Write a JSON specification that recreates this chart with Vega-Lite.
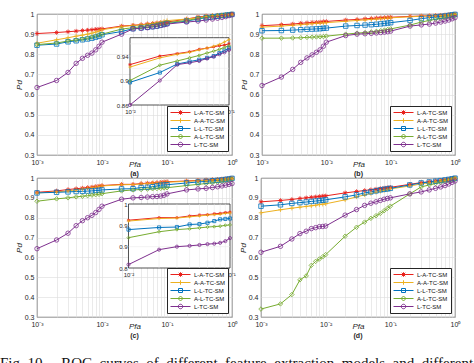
{
"$schema": "https://vega.github.io/schema/vega-lite/v6.json",
"background": "white",
"padding": {"left": 0, "top": 9, "right": 0, "bottom": 0},
"config": {
 "view": {"stroke": "#262626", "strokeWidth": 0.8},
 "font": "Liberation Sans",
 "style": {"guide-label": {"fontSize": 6}},
 "axis": {"labelFont": "Liberation Sans", "labelFontSize": 7, "labelColor": "#262626", "titleFont": "Liberation Sans", "titleFontSize": 8, "titleFontStyle": "italic", "titleFontWeight": "normal", "titleColor": "#262626", "domain": false, "ticks": false, "labelPadding": 3, "gridColor": "#dcdcdc", "gridWidth": 0.6},
 "legend": {"labelFontSize": 6, "labelFont": "Liberation Sans", "symbolSize": 25, "symbolStrokeWidth": 1, "clipHeight": 7}
},
"datasets": {
 "roc": [
  {"p":"a","x":0.001,"L-A-TC-SM":0.903,"A-A-TC-SM":0.855,"L-L-TC-SM":0.845,"A-L-TC-SM":0.848,"L-TC-SM":0.635},
  {"p":"a","x":0.002,"L-A-TC-SM":0.908,"A-A-TC-SM":0.872,"L-L-TC-SM":0.851,"A-L-TC-SM":0.856,"L-TC-SM":0.670},
  {"p":"a","x":0.003,"L-A-TC-SM":0.912,"A-A-TC-SM":0.882,"L-L-TC-SM":0.862,"A-L-TC-SM":0.866,"L-TC-SM":0.710},
  {"p":"a","x":0.004,"L-A-TC-SM":0.915,"A-A-TC-SM":0.890,"L-L-TC-SM":0.867,"A-L-TC-SM":0.871,"L-TC-SM":0.755},
  {"p":"a","x":0.005,"L-A-TC-SM":0.918,"A-A-TC-SM":0.895,"L-L-TC-SM":0.872,"A-L-TC-SM":0.876,"L-TC-SM":0.780},
  {"p":"a","x":0.006,"L-A-TC-SM":0.920,"A-A-TC-SM":0.900,"L-L-TC-SM":0.876,"A-L-TC-SM":0.880,"L-TC-SM":0.795},
  {"p":"a","x":0.007,"L-A-TC-SM":0.922,"A-A-TC-SM":0.905,"L-L-TC-SM":0.880,"A-L-TC-SM":0.885,"L-TC-SM":0.806},
  {"p":"a","x":0.008,"L-A-TC-SM":0.924,"A-A-TC-SM":0.910,"L-L-TC-SM":0.885,"A-L-TC-SM":0.890,"L-TC-SM":0.822},
  {"p":"a","x":0.009,"L-A-TC-SM":0.925,"A-A-TC-SM":0.915,"L-L-TC-SM":0.890,"A-L-TC-SM":0.895,"L-TC-SM":0.840},
  {"p":"a","x":0.01,"L-A-TC-SM":0.926,"A-A-TC-SM":0.922,"L-L-TC-SM":0.897,"A-L-TC-SM":0.900,"L-TC-SM":0.860},
  {"p":"a","x":0.02,"L-A-TC-SM":0.940,"A-A-TC-SM":0.937,"L-L-TC-SM":0.913,"A-L-TC-SM":0.925,"L-TC-SM":0.900},
  {"p":"a","x":0.03,"L-A-TC-SM":0.944,"A-A-TC-SM":0.943,"L-L-TC-SM":0.927,"A-L-TC-SM":0.932,"L-TC-SM":0.926},
  {"p":"a","x":0.04,"L-A-TC-SM":0.947,"A-A-TC-SM":0.946,"L-L-TC-SM":0.931,"A-L-TC-SM":0.937,"L-TC-SM":0.929},
  {"p":"a","x":0.05,"L-A-TC-SM":0.951,"A-A-TC-SM":0.950,"L-L-TC-SM":0.934,"A-L-TC-SM":0.941,"L-TC-SM":0.932},
  {"p":"a","x":0.06,"L-A-TC-SM":0.953,"A-A-TC-SM":0.953,"L-L-TC-SM":0.937,"A-L-TC-SM":0.945,"L-TC-SM":0.936},
  {"p":"a","x":0.07,"L-A-TC-SM":0.955,"A-A-TC-SM":0.956,"L-L-TC-SM":0.940,"A-L-TC-SM":0.948,"L-TC-SM":0.939},
  {"p":"a","x":0.08,"L-A-TC-SM":0.957,"A-A-TC-SM":0.959,"L-L-TC-SM":0.945,"A-L-TC-SM":0.951,"L-TC-SM":0.943},
  {"p":"a","x":0.09,"L-A-TC-SM":0.958,"A-A-TC-SM":0.963,"L-L-TC-SM":0.949,"A-L-TC-SM":0.954,"L-TC-SM":0.946},
  {"p":"a","x":0.1,"L-A-TC-SM":0.960,"A-A-TC-SM":0.967,"L-L-TC-SM":0.953,"A-L-TC-SM":0.957,"L-TC-SM":0.950},
  {"p":"a","x":0.2,"L-A-TC-SM":0.975,"A-A-TC-SM":0.975,"L-L-TC-SM":0.965,"A-L-TC-SM":0.968,"L-TC-SM":0.960},
  {"p":"a","x":0.3,"L-A-TC-SM":0.985,"A-A-TC-SM":0.982,"L-L-TC-SM":0.975,"A-L-TC-SM":0.978,"L-TC-SM":0.965},
  {"p":"a","x":0.4,"L-A-TC-SM":0.990,"A-A-TC-SM":0.988,"L-L-TC-SM":0.982,"A-L-TC-SM":0.984,"L-TC-SM":0.970},
  {"p":"a","x":0.5,"L-A-TC-SM":0.992,"A-A-TC-SM":0.991,"L-L-TC-SM":0.986,"A-L-TC-SM":0.988,"L-TC-SM":0.975},
  {"p":"a","x":0.6,"L-A-TC-SM":0.994,"A-A-TC-SM":0.993,"L-L-TC-SM":0.989,"A-L-TC-SM":0.991,"L-TC-SM":0.979},
  {"p":"a","x":0.7,"L-A-TC-SM":0.995,"A-A-TC-SM":0.995,"L-L-TC-SM":0.992,"A-L-TC-SM":0.993,"L-TC-SM":0.983},
  {"p":"a","x":0.8,"L-A-TC-SM":0.997,"A-A-TC-SM":0.996,"L-L-TC-SM":0.994,"A-L-TC-SM":0.995,"L-TC-SM":0.987},
  {"p":"a","x":0.9,"L-A-TC-SM":0.998,"A-A-TC-SM":0.998,"L-L-TC-SM":0.996,"A-L-TC-SM":0.997,"L-TC-SM":0.992},
  {"p":"a","x":1,"L-A-TC-SM":1.0,"A-A-TC-SM":1.0,"L-L-TC-SM":0.998,"A-L-TC-SM":0.999,"L-TC-SM":0.996},

  {"p":"b","x":0.001,"L-A-TC-SM":0.942,"A-A-TC-SM":0.935,"L-L-TC-SM":0.917,"A-L-TC-SM":0.880,"L-TC-SM":0.645},
  {"p":"b","x":0.002,"L-A-TC-SM":0.947,"A-A-TC-SM":0.940,"L-L-TC-SM":0.918,"A-L-TC-SM":0.880,"L-TC-SM":0.687},
  {"p":"b","x":0.003,"L-A-TC-SM":0.950,"A-A-TC-SM":0.944,"L-L-TC-SM":0.920,"A-L-TC-SM":0.881,"L-TC-SM":0.725},
  {"p":"b","x":0.004,"L-A-TC-SM":0.954,"A-A-TC-SM":0.947,"L-L-TC-SM":0.922,"A-L-TC-SM":0.882,"L-TC-SM":0.760},
  {"p":"b","x":0.005,"L-A-TC-SM":0.956,"A-A-TC-SM":0.950,"L-L-TC-SM":0.924,"A-L-TC-SM":0.884,"L-TC-SM":0.782},
  {"p":"b","x":0.006,"L-A-TC-SM":0.958,"A-A-TC-SM":0.952,"L-L-TC-SM":0.925,"A-L-TC-SM":0.885,"L-TC-SM":0.797},
  {"p":"b","x":0.007,"L-A-TC-SM":0.959,"A-A-TC-SM":0.954,"L-L-TC-SM":0.926,"A-L-TC-SM":0.886,"L-TC-SM":0.810},
  {"p":"b","x":0.008,"L-A-TC-SM":0.960,"A-A-TC-SM":0.955,"L-L-TC-SM":0.927,"A-L-TC-SM":0.887,"L-TC-SM":0.822},
  {"p":"b","x":0.009,"L-A-TC-SM":0.962,"A-A-TC-SM":0.956,"L-L-TC-SM":0.929,"A-L-TC-SM":0.888,"L-TC-SM":0.840},
  {"p":"b","x":0.01,"L-A-TC-SM":0.963,"A-A-TC-SM":0.957,"L-L-TC-SM":0.930,"A-L-TC-SM":0.890,"L-TC-SM":0.860},
  {"p":"b","x":0.02,"L-A-TC-SM":0.970,"A-A-TC-SM":0.964,"L-L-TC-SM":0.940,"A-L-TC-SM":0.900,"L-TC-SM":0.893},
  {"p":"b","x":0.03,"L-A-TC-SM":0.973,"A-A-TC-SM":0.968,"L-L-TC-SM":0.943,"A-L-TC-SM":0.905,"L-TC-SM":0.900},
  {"p":"b","x":0.04,"L-A-TC-SM":0.976,"A-A-TC-SM":0.971,"L-L-TC-SM":0.945,"A-L-TC-SM":0.908,"L-TC-SM":0.902},
  {"p":"b","x":0.05,"L-A-TC-SM":0.978,"A-A-TC-SM":0.973,"L-L-TC-SM":0.947,"A-L-TC-SM":0.911,"L-TC-SM":0.904},
  {"p":"b","x":0.06,"L-A-TC-SM":0.980,"A-A-TC-SM":0.975,"L-L-TC-SM":0.949,"A-L-TC-SM":0.914,"L-TC-SM":0.906},
  {"p":"b","x":0.07,"L-A-TC-SM":0.981,"A-A-TC-SM":0.977,"L-L-TC-SM":0.951,"A-L-TC-SM":0.917,"L-TC-SM":0.908},
  {"p":"b","x":0.08,"L-A-TC-SM":0.982,"A-A-TC-SM":0.979,"L-L-TC-SM":0.953,"A-L-TC-SM":0.920,"L-TC-SM":0.910},
  {"p":"b","x":0.09,"L-A-TC-SM":0.983,"A-A-TC-SM":0.980,"L-L-TC-SM":0.955,"A-L-TC-SM":0.923,"L-TC-SM":0.912},
  {"p":"b","x":0.1,"L-A-TC-SM":0.984,"A-A-TC-SM":0.981,"L-L-TC-SM":0.957,"A-L-TC-SM":0.926,"L-TC-SM":0.915},
  {"p":"b","x":0.2,"L-A-TC-SM":0.988,"A-A-TC-SM":0.986,"L-L-TC-SM":0.968,"A-L-TC-SM":0.945,"L-TC-SM":0.940},
  {"p":"b","x":0.3,"L-A-TC-SM":0.990,"A-A-TC-SM":0.989,"L-L-TC-SM":0.977,"A-L-TC-SM":0.960,"L-TC-SM":0.946},
  {"p":"b","x":0.4,"L-A-TC-SM":0.991,"A-A-TC-SM":0.990,"L-L-TC-SM":0.982,"A-L-TC-SM":0.968,"L-TC-SM":0.950},
  {"p":"b","x":0.5,"L-A-TC-SM":0.993,"A-A-TC-SM":0.992,"L-L-TC-SM":0.985,"A-L-TC-SM":0.974,"L-TC-SM":0.955},
  {"p":"b","x":0.6,"L-A-TC-SM":0.994,"A-A-TC-SM":0.993,"L-L-TC-SM":0.988,"A-L-TC-SM":0.978,"L-TC-SM":0.960},
  {"p":"b","x":0.7,"L-A-TC-SM":0.995,"A-A-TC-SM":0.995,"L-L-TC-SM":0.990,"A-L-TC-SM":0.982,"L-TC-SM":0.965},
  {"p":"b","x":0.8,"L-A-TC-SM":0.997,"A-A-TC-SM":0.996,"L-L-TC-SM":0.993,"A-L-TC-SM":0.986,"L-TC-SM":0.970},
  {"p":"b","x":0.9,"L-A-TC-SM":0.998,"A-A-TC-SM":0.998,"L-L-TC-SM":0.996,"A-L-TC-SM":0.990,"L-TC-SM":0.976},
  {"p":"b","x":1,"L-A-TC-SM":1.0,"A-A-TC-SM":0.999,"L-L-TC-SM":0.998,"A-L-TC-SM":0.995,"L-TC-SM":0.982},

  {"p":"c","x":0.001,"L-A-TC-SM":0.928,"A-A-TC-SM":0.925,"L-L-TC-SM":0.925,"A-L-TC-SM":0.883,"L-TC-SM":0.644},
  {"p":"c","x":0.002,"L-A-TC-SM":0.935,"A-A-TC-SM":0.930,"L-L-TC-SM":0.928,"A-L-TC-SM":0.895,"L-TC-SM":0.688},
  {"p":"c","x":0.003,"L-A-TC-SM":0.942,"A-A-TC-SM":0.935,"L-L-TC-SM":0.930,"A-L-TC-SM":0.900,"L-TC-SM":0.722},
  {"p":"c","x":0.004,"L-A-TC-SM":0.946,"A-A-TC-SM":0.940,"L-L-TC-SM":0.932,"A-L-TC-SM":0.905,"L-TC-SM":0.760},
  {"p":"c","x":0.005,"L-A-TC-SM":0.949,"A-A-TC-SM":0.944,"L-L-TC-SM":0.933,"A-L-TC-SM":0.908,"L-TC-SM":0.785},
  {"p":"c","x":0.006,"L-A-TC-SM":0.952,"A-A-TC-SM":0.948,"L-L-TC-SM":0.934,"A-L-TC-SM":0.911,"L-TC-SM":0.800},
  {"p":"c","x":0.007,"L-A-TC-SM":0.954,"A-A-TC-SM":0.951,"L-L-TC-SM":0.935,"A-L-TC-SM":0.914,"L-TC-SM":0.812},
  {"p":"c","x":0.008,"L-A-TC-SM":0.957,"A-A-TC-SM":0.954,"L-L-TC-SM":0.937,"A-L-TC-SM":0.916,"L-TC-SM":0.826},
  {"p":"c","x":0.009,"L-A-TC-SM":0.959,"A-A-TC-SM":0.957,"L-L-TC-SM":0.938,"A-L-TC-SM":0.918,"L-TC-SM":0.842},
  {"p":"c","x":0.01,"L-A-TC-SM":0.962,"A-A-TC-SM":0.960,"L-L-TC-SM":0.940,"A-L-TC-SM":0.921,"L-TC-SM":0.858},
  {"p":"c","x":0.02,"L-A-TC-SM":0.968,"A-A-TC-SM":0.966,"L-L-TC-SM":0.945,"A-L-TC-SM":0.935,"L-TC-SM":0.893},
  {"p":"c","x":0.03,"L-A-TC-SM":0.968,"A-A-TC-SM":0.967,"L-L-TC-SM":0.946,"A-L-TC-SM":0.940,"L-TC-SM":0.900},
  {"p":"c","x":0.04,"L-A-TC-SM":0.972,"A-A-TC-SM":0.970,"L-L-TC-SM":0.952,"A-L-TC-SM":0.942,"L-TC-SM":0.902},
  {"p":"c","x":0.05,"L-A-TC-SM":0.974,"A-A-TC-SM":0.972,"L-L-TC-SM":0.953,"A-L-TC-SM":0.944,"L-TC-SM":0.904},
  {"p":"c","x":0.06,"L-A-TC-SM":0.975,"A-A-TC-SM":0.974,"L-L-TC-SM":0.956,"A-L-TC-SM":0.946,"L-TC-SM":0.906},
  {"p":"c","x":0.07,"L-A-TC-SM":0.977,"A-A-TC-SM":0.975,"L-L-TC-SM":0.960,"A-L-TC-SM":0.947,"L-TC-SM":0.907},
  {"p":"c","x":0.08,"L-A-TC-SM":0.978,"A-A-TC-SM":0.976,"L-L-TC-SM":0.964,"A-L-TC-SM":0.948,"L-TC-SM":0.909},
  {"p":"c","x":0.09,"L-A-TC-SM":0.980,"A-A-TC-SM":0.978,"L-L-TC-SM":0.965,"A-L-TC-SM":0.950,"L-TC-SM":0.913},
  {"p":"c","x":0.1,"L-A-TC-SM":0.981,"A-A-TC-SM":0.979,"L-L-TC-SM":0.966,"A-L-TC-SM":0.951,"L-TC-SM":0.920},
  {"p":"c","x":0.2,"L-A-TC-SM":0.985,"A-A-TC-SM":0.983,"L-L-TC-SM":0.975,"A-L-TC-SM":0.962,"L-TC-SM":0.940},
  {"p":"c","x":0.3,"L-A-TC-SM":0.988,"A-A-TC-SM":0.986,"L-L-TC-SM":0.980,"A-L-TC-SM":0.968,"L-TC-SM":0.945},
  {"p":"c","x":0.4,"L-A-TC-SM":0.990,"A-A-TC-SM":0.988,"L-L-TC-SM":0.983,"A-L-TC-SM":0.972,"L-TC-SM":0.948},
  {"p":"c","x":0.5,"L-A-TC-SM":0.992,"A-A-TC-SM":0.990,"L-L-TC-SM":0.986,"A-L-TC-SM":0.976,"L-TC-SM":0.952},
  {"p":"c","x":0.6,"L-A-TC-SM":0.993,"A-A-TC-SM":0.992,"L-L-TC-SM":0.988,"A-L-TC-SM":0.979,"L-TC-SM":0.956},
  {"p":"c","x":0.7,"L-A-TC-SM":0.995,"A-A-TC-SM":0.994,"L-L-TC-SM":0.990,"A-L-TC-SM":0.982,"L-TC-SM":0.960},
  {"p":"c","x":0.8,"L-A-TC-SM":0.996,"A-A-TC-SM":0.995,"L-L-TC-SM":0.993,"A-L-TC-SM":0.986,"L-TC-SM":0.964},
  {"p":"c","x":0.9,"L-A-TC-SM":0.998,"A-A-TC-SM":0.997,"L-L-TC-SM":0.995,"A-L-TC-SM":0.990,"L-TC-SM":0.968},
  {"p":"c","x":1,"L-A-TC-SM":1.0,"A-A-TC-SM":0.999,"L-L-TC-SM":0.998,"A-L-TC-SM":0.994,"L-TC-SM":0.972},

  {"p":"d","x":0.001,"L-A-TC-SM":0.880,"A-A-TC-SM":0.825,"L-L-TC-SM":0.858,"A-L-TC-SM":0.340,"L-TC-SM":0.626},
  {"p":"d","x":0.002,"L-A-TC-SM":0.887,"A-A-TC-SM":0.840,"L-L-TC-SM":0.865,"A-L-TC-SM":0.366,"L-TC-SM":0.656},
  {"p":"d","x":0.003,"L-A-TC-SM":0.892,"A-A-TC-SM":0.848,"L-L-TC-SM":0.872,"A-L-TC-SM":0.413,"L-TC-SM":0.693},
  {"p":"d","x":0.004,"L-A-TC-SM":0.897,"A-A-TC-SM":0.853,"L-L-TC-SM":0.876,"A-L-TC-SM":0.487,"L-TC-SM":0.720},
  {"p":"d","x":0.005,"L-A-TC-SM":0.900,"A-A-TC-SM":0.857,"L-L-TC-SM":0.879,"A-L-TC-SM":0.507,"L-TC-SM":0.732},
  {"p":"d","x":0.006,"L-A-TC-SM":0.903,"A-A-TC-SM":0.860,"L-L-TC-SM":0.882,"A-L-TC-SM":0.560,"L-TC-SM":0.745},
  {"p":"d","x":0.007,"L-A-TC-SM":0.905,"A-A-TC-SM":0.863,"L-L-TC-SM":0.884,"A-L-TC-SM":0.580,"L-TC-SM":0.750},
  {"p":"d","x":0.008,"L-A-TC-SM":0.907,"A-A-TC-SM":0.866,"L-L-TC-SM":0.886,"A-L-TC-SM":0.592,"L-TC-SM":0.755},
  {"p":"d","x":0.009,"L-A-TC-SM":0.909,"A-A-TC-SM":0.868,"L-L-TC-SM":0.888,"A-L-TC-SM":0.603,"L-TC-SM":0.756},
  {"p":"d","x":0.01,"L-A-TC-SM":0.910,"A-A-TC-SM":0.870,"L-L-TC-SM":0.890,"A-L-TC-SM":0.614,"L-TC-SM":0.758},
  {"p":"d","x":0.02,"L-A-TC-SM":0.925,"A-A-TC-SM":0.890,"L-L-TC-SM":0.905,"A-L-TC-SM":0.707,"L-TC-SM":0.813},
  {"p":"d","x":0.03,"L-A-TC-SM":0.932,"A-A-TC-SM":0.905,"L-L-TC-SM":0.915,"A-L-TC-SM":0.752,"L-TC-SM":0.841},
  {"p":"d","x":0.04,"L-A-TC-SM":0.937,"A-A-TC-SM":0.915,"L-L-TC-SM":0.925,"A-L-TC-SM":0.778,"L-TC-SM":0.862},
  {"p":"d","x":0.05,"L-A-TC-SM":0.941,"A-A-TC-SM":0.922,"L-L-TC-SM":0.930,"A-L-TC-SM":0.797,"L-TC-SM":0.873},
  {"p":"d","x":0.06,"L-A-TC-SM":0.944,"A-A-TC-SM":0.928,"L-L-TC-SM":0.935,"A-L-TC-SM":0.810,"L-TC-SM":0.880},
  {"p":"d","x":0.07,"L-A-TC-SM":0.947,"A-A-TC-SM":0.933,"L-L-TC-SM":0.940,"A-L-TC-SM":0.822,"L-TC-SM":0.887},
  {"p":"d","x":0.08,"L-A-TC-SM":0.949,"A-A-TC-SM":0.937,"L-L-TC-SM":0.943,"A-L-TC-SM":0.835,"L-TC-SM":0.893},
  {"p":"d","x":0.09,"L-A-TC-SM":0.951,"A-A-TC-SM":0.941,"L-L-TC-SM":0.945,"A-L-TC-SM":0.847,"L-TC-SM":0.897},
  {"p":"d","x":0.1,"L-A-TC-SM":0.953,"A-A-TC-SM":0.945,"L-L-TC-SM":0.948,"A-L-TC-SM":0.858,"L-TC-SM":0.900},
  {"p":"d","x":0.2,"L-A-TC-SM":0.968,"A-A-TC-SM":0.960,"L-L-TC-SM":0.965,"A-L-TC-SM":0.920,"L-TC-SM":0.920},
  {"p":"d","x":0.3,"L-A-TC-SM":0.977,"A-A-TC-SM":0.970,"L-L-TC-SM":0.975,"A-L-TC-SM":0.955,"L-TC-SM":0.930},
  {"p":"d","x":0.4,"L-A-TC-SM":0.981,"A-A-TC-SM":0.976,"L-L-TC-SM":0.980,"A-L-TC-SM":0.965,"L-TC-SM":0.940},
  {"p":"d","x":0.5,"L-A-TC-SM":0.985,"A-A-TC-SM":0.981,"L-L-TC-SM":0.984,"A-L-TC-SM":0.972,"L-TC-SM":0.948},
  {"p":"d","x":0.6,"L-A-TC-SM":0.988,"A-A-TC-SM":0.985,"L-L-TC-SM":0.987,"A-L-TC-SM":0.978,"L-TC-SM":0.955},
  {"p":"d","x":0.7,"L-A-TC-SM":0.991,"A-A-TC-SM":0.988,"L-L-TC-SM":0.990,"A-L-TC-SM":0.983,"L-TC-SM":0.962},
  {"p":"d","x":0.8,"L-A-TC-SM":0.994,"A-A-TC-SM":0.992,"L-L-TC-SM":0.993,"A-L-TC-SM":0.987,"L-TC-SM":0.970},
  {"p":"d","x":0.9,"L-A-TC-SM":0.997,"A-A-TC-SM":0.996,"L-L-TC-SM":0.996,"A-L-TC-SM":0.992,"L-TC-SM":0.978},
  {"p":"d","x":1,"L-A-TC-SM":1.0,"A-A-TC-SM":0.999,"L-L-TC-SM":0.999,"A-L-TC-SM":0.997,"L-TC-SM":0.985}
 ]
},
"title": {"text": "Fig. 10.\u00a0\u00a0\u00a0\u00a0ROC\u00a0\u00a0curves\u00a0\u00a0of\u00a0\u00a0different\u00a0\u00a0feature\u00a0\u00a0extraction\u00a0\u00a0models\u00a0\u00a0and\u00a0\u00a0different", "orient": "bottom", "anchor": "start", "frame": "group", "font": "Liberation Serif", "fontSize": 15, "fontWeight": "normal", "color": "#111111", "offset": 17, "dx": -37},
"spacing": -6,
"resolve": {"scale": {"color": "independent", "shape": "independent"}, "legend": {"color": "independent", "shape": "independent"}},
"vconcat": [
 {"hconcat": [
  {
   "width": 195, "height": 141,
   "data": {"name": "roc"},
   "transform": [{"filter": "datum.p === 'a'"}, {"fold": ["L-A-TC-SM", "A-A-TC-SM", "L-L-TC-SM", "A-L-TC-SM", "L-TC-SM"], "as": ["s", "y"]}],
   "title": {"text": "(a)", "orient": "bottom", "offset": 2, "fontSize": 7, "fontWeight": "bold", "font": "Liberation Sans", "color": "#262626", "anchor": "middle"},
   "layer": [
    {
     "encoding": {
      "x": {"field": "x", "type": "quantitative", "scale": {"type": "log", "domain": [0.001, 1], "nice": false}, "axis": {"values": [0.001,0.002,0.003,0.004,0.005,0.006,0.007,0.008,0.009,0.01,0.02,0.03,0.04,0.05,0.06,0.07,0.08,0.09,0.1,0.2,0.3,0.4,0.5,0.6,0.7,0.8,0.9,1], "labelExpr": "datum.value === 0.001 ? '10⁻³' : datum.value === 0.01 ? '10⁻²' : datum.value === 0.1 ? '10⁻¹' : datum.value === 1 ? '10⁰' : ''", "labelOverlap": false, "labelFlush": false, "labelBound": false, "title": "Pfa", "titlePadding": -5, "grid": true}},
      "y": {"field": "y", "type": "quantitative", "scale": {"domain": [0.3, 1], "nice": false, "zero": false}, "axis": {"values": [0.3,0.4,0.5,0.6,0.7,0.8,0.9,1], "format": ".1~f", "title": "Pd", "titlePadding": 1, "grid": true}},
      "color": {"field": "s", "type": "nominal", "scale": {"domain": ["L-A-TC-SM", "A-A-TC-SM", "L-L-TC-SM", "A-L-TC-SM", "L-TC-SM"], "range": ["#e8211c", "#edb120", "#0072bd", "#77ac30", "#7e2f8e"]}, "legend": {"title": null, "orient": "bottom-right", "offset": 4, "zindex": 1, "fillColor": "white", "strokeColor": "#262626", "padding": 3, "labelFontSize": 6, "labelFont": "Liberation Sans", "labelColor": "#111111", "symbolSize": 25, "symbolStrokeWidth": 1, "rowPadding": 1, "labelOffset": 18, "clipHeight": 7}}
     },
     "layer": [
      {"mark": {"type": "line", "strokeWidth": 1}},
      {"mark": {"type": "point", "filled": false, "strokeWidth": 0.8, "size": 20, "opacity": 1}, "encoding": {"shape": {"condition": [{"test": "datum.s === 'L-A-TC-SM'", "value": "M-1,0L1,0M0,-1L0,1M-0.7,-0.7L0.7,0.7M-0.7,0.7L0.7,-0.7"}, {"test": "datum.s === 'A-A-TC-SM'", "value": "M-1,0L1,0M0,-1L0,1"}, {"test": "datum.s === 'L-L-TC-SM'", "value": "square"}, {"test": "datum.s === 'A-L-TC-SM'", "value": "diamond"}], "value": "circle"}}},
      {"transform": [{"filter": "false"}], "mark": {"type": "point", "filled": false, "strokeWidth": 1, "opacity": 1}, "encoding": {"shape": {"field": "s", "type": "nominal", "scale": {"domain": ["L-A-TC-SM", "A-A-TC-SM", "L-L-TC-SM", "A-L-TC-SM", "L-TC-SM"], "range": ["M-1,0L7,0M2.3,-0.7L3.7,0.7M2.3,0.7L3.7,-0.7M3,-0.9L3,0.9", "M-1,0L7,0M3,-0.9L3,0.9", "M-1,0L7,0M2.2,-0.8L3.8,-0.8L3.8,0.8L2.2,0.8Z", "M-1,0L7,0M3,-1L4,0L3,1L2,0Z", "M-1,0L7,0M2.1,0A0.9,0.9 0 1,0 3.9,0A0.9,0.9 0 1,0 2.1,0Z"]}, "legend": {"title": null, "orient": "bottom-right", "offset": 4, "zindex": 1, "fillColor": "white", "strokeColor": "#262626", "padding": 3, "labelFontSize": 6, "labelFont": "Liberation Sans", "labelColor": "#111111", "symbolSize": 25, "symbolStrokeWidth": 1, "rowPadding": 1, "labelOffset": 18, "clipHeight": 7}}}}
     ]
    },
    {
     "layer": [
      {"data": {"values": [{}]}, "mark": {"type": "rect", "fill": "white", "stroke": "#262626", "strokeWidth": 0.8},
       "encoding": {
        "x": {"datum": 0.01, "type": "quantitative", "scale": {"type": "log", "domain": [0.0011498, 0.10723], "nice": false}, "axis": {"orient": "bottom", "offset": -50, "values": [0.01, 0.1], "labelExpr": "datum.value < 0.05 ? '10⁻²' : '10⁻¹'", "title": null, "grid": false, "labelFlush": false, "labelOverlap": false, "zindex": 1, "labelPadding": 3, "labelFontSize": 6}},
        "x2": {"datum": 0.1},
        "y": {"datum": 0.86, "type": "quantitative", "scale": {"domain": [0.77828, 1.00874], "nice": false, "zero": false}, "axis": {"orient": "left", "offset": -93, "values": [0.86, 0.88, 0.9, 0.92, 0.94, 0.96], "format": "~g", "title": null, "grid": false, "zindex": 1, "labelPadding": 2, "labelOverlap": false, "labelFontSize": 6}},
        "y2": {"datum": 0.97}}},
      {"data": {"values": [{"v":0.02},{"v":0.03},{"v":0.04},{"v":0.05},{"v":0.06},{"v":0.07},{"v":0.08},{"v":0.09}]}, "mark": {"type": "rule", "stroke": "#e6e6e6", "strokeWidth": 0.5},
       "encoding": {"x": {"field": "v", "type": "quantitative", "scale": {"type": "log", "domain": [0.0011498, 0.10723], "nice": false}}, "y": {"datum": 0.86, "type": "quantitative", "scale": {"domain": [0.77828, 1.00874], "nice": false, "zero": false}}, "y2": {"datum": 0.97}}},
      {"data": {"values": [{"v":0.88},{"v":0.9},{"v":0.92},{"v":0.94},{"v":0.96}]}, "mark": {"type": "rule", "stroke": "#e6e6e6", "strokeWidth": 0.5},
       "encoding": {"y": {"field": "v", "type": "quantitative", "scale": {"domain": [0.77828, 1.00874], "nice": false, "zero": false}}, "x": {"datum": 0.01, "type": "quantitative", "scale": {"type": "log", "domain": [0.0011498, 0.10723], "nice": false}}, "x2": {"datum": 0.1}}},
      {"transform": [{"filter": "datum.x >= 0.01 && datum.x <= 0.1"}],
       "encoding": {
        "x": {"field": "x", "type": "quantitative", "scale": {"type": "log", "domain": [0.0011498, 0.10723], "nice": false}},
        "y": {"field": "y", "type": "quantitative", "scale": {"domain": [0.77828, 1.00874], "nice": false, "zero": false}},
        "color": {"field": "s", "type": "nominal"}},
       "layer": [
        {"mark": {"type": "line", "strokeWidth": 1}},
        {"mark": {"type": "point", "filled": false, "strokeWidth": 0.8, "size": 10, "opacity": 1}, "encoding": {"shape": {"condition": [{"test": "datum.s === 'L-A-TC-SM'", "value": "M-1,0L1,0M0,-1L0,1M-0.7,-0.7L0.7,0.7M-0.7,0.7L0.7,-0.7"}, {"test": "datum.s === 'A-A-TC-SM'", "value": "M-1,0L1,0M0,-1L0,1"}, {"test": "datum.s === 'L-L-TC-SM'", "value": "square"}, {"test": "datum.s === 'A-L-TC-SM'", "value": "diamond"}], "value": "circle"}}}
       ]}
     ]
    }
   ],
   "resolve": {"scale": {"x": "independent", "y": "independent"}, "axis": {"x": "independent", "y": "independent"}}
  },
  {
   "width": 193, "height": 141,
   "data": {"name": "roc"},
   "transform": [{"filter": "datum.p === 'b'"}, {"fold": ["L-A-TC-SM", "A-A-TC-SM", "L-L-TC-SM", "A-L-TC-SM", "L-TC-SM"], "as": ["s", "y"]}],
   "title": {"text": "(b)", "orient": "bottom", "offset": 2, "fontSize": 7, "fontWeight": "bold", "font": "Liberation Sans", "color": "#262626", "anchor": "middle"},
   "encoding": {
    "x": {"field": "x", "type": "quantitative", "scale": {"type": "log", "domain": [0.001, 1], "nice": false}, "axis": {"values": [0.001,0.002,0.003,0.004,0.005,0.006,0.007,0.008,0.009,0.01,0.02,0.03,0.04,0.05,0.06,0.07,0.08,0.09,0.1,0.2,0.3,0.4,0.5,0.6,0.7,0.8,0.9,1], "labelExpr": "datum.value === 0.001 ? '10⁻³' : datum.value === 0.01 ? '10⁻²' : datum.value === 0.1 ? '10⁻¹' : datum.value === 1 ? '10⁰' : ''", "labelOverlap": false, "labelFlush": false, "labelBound": false, "title": "Pfa", "titlePadding": -5, "grid": true}},
    "y": {"field": "y", "type": "quantitative", "scale": {"domain": [0.3, 1], "nice": false, "zero": false}, "axis": {"values": [0.3,0.4,0.5,0.6,0.7,0.8,0.9,1], "format": ".1~f", "title": "Pd", "titlePadding": 1, "grid": true}},
    "color": {"field": "s", "type": "nominal", "scale": {"domain": ["L-A-TC-SM", "A-A-TC-SM", "L-L-TC-SM", "A-L-TC-SM", "L-TC-SM"], "range": ["#e8211c", "#edb120", "#0072bd", "#77ac30", "#7e2f8e"]}, "legend": {"title": null, "orient": "bottom-right", "offset": 4, "zindex": 1, "fillColor": "white", "strokeColor": "#262626", "padding": 3, "labelFontSize": 6, "labelFont": "Liberation Sans", "labelColor": "#111111", "symbolSize": 25, "symbolStrokeWidth": 1, "rowPadding": 1, "labelOffset": 18, "clipHeight": 7}}
   },
   "layer": [
    {"mark": {"type": "line", "strokeWidth": 1}},
    {"mark": {"type": "point", "filled": false, "strokeWidth": 0.8, "size": 20, "opacity": 1}, "encoding": {"shape": {"condition": [{"test": "datum.s === 'L-A-TC-SM'", "value": "M-1,0L1,0M0,-1L0,1M-0.7,-0.7L0.7,0.7M-0.7,0.7L0.7,-0.7"}, {"test": "datum.s === 'A-A-TC-SM'", "value": "M-1,0L1,0M0,-1L0,1"}, {"test": "datum.s === 'L-L-TC-SM'", "value": "square"}, {"test": "datum.s === 'A-L-TC-SM'", "value": "diamond"}], "value": "circle"}}},
    {"transform": [{"filter": "false"}], "mark": {"type": "point", "filled": false, "strokeWidth": 1, "opacity": 1}, "encoding": {"shape": {"field": "s", "type": "nominal", "scale": {"domain": ["L-A-TC-SM", "A-A-TC-SM", "L-L-TC-SM", "A-L-TC-SM", "L-TC-SM"], "range": ["M-1,0L7,0M2.3,-0.7L3.7,0.7M2.3,0.7L3.7,-0.7M3,-0.9L3,0.9", "M-1,0L7,0M3,-0.9L3,0.9", "M-1,0L7,0M2.2,-0.8L3.8,-0.8L3.8,0.8L2.2,0.8Z", "M-1,0L7,0M3,-1L4,0L3,1L2,0Z", "M-1,0L7,0M2.1,0A0.9,0.9 0 1,0 3.9,0A0.9,0.9 0 1,0 2.1,0Z"]}, "legend": {"title": null, "orient": "bottom-right", "offset": 4, "zindex": 1, "fillColor": "white", "strokeColor": "#262626", "padding": 3, "labelFontSize": 6, "labelFont": "Liberation Sans", "labelColor": "#111111", "symbolSize": 25, "symbolStrokeWidth": 1, "rowPadding": 1, "labelOffset": 18, "clipHeight": 7}}}}
   ]
  }
 ], "spacing": 30, "bounds": "flush", "resolve": {"scale": {"color": "independent", "shape": "independent"}, "legend": {"color": "independent", "shape": "independent"}}},
 {"hconcat": [
  {
   "width": 195, "height": 139,
   "data": {"name": "roc"},
   "transform": [{"filter": "datum.p === 'c'"}, {"fold": ["L-A-TC-SM", "A-A-TC-SM", "L-L-TC-SM", "A-L-TC-SM", "L-TC-SM"], "as": ["s", "y"]}],
   "title": {"text": "(c)", "orient": "bottom", "offset": 2, "fontSize": 7, "fontWeight": "bold", "font": "Liberation Sans", "color": "#262626", "anchor": "middle"},
   "layer": [
    {
     "encoding": {
      "x": {"field": "x", "type": "quantitative", "scale": {"type": "log", "domain": [0.001, 1], "nice": false}, "axis": {"values": [0.001,0.002,0.003,0.004,0.005,0.006,0.007,0.008,0.009,0.01,0.02,0.03,0.04,0.05,0.06,0.07,0.08,0.09,0.1,0.2,0.3,0.4,0.5,0.6,0.7,0.8,0.9,1], "labelExpr": "datum.value === 0.001 ? '10⁻³' : datum.value === 0.01 ? '10⁻²' : datum.value === 0.1 ? '10⁻¹' : datum.value === 1 ? '10⁰' : ''", "labelOverlap": false, "labelFlush": false, "labelBound": false, "title": "Pfa", "titlePadding": -5, "grid": true}},
      "y": {"field": "y", "type": "quantitative", "scale": {"domain": [0.3, 1], "nice": false, "zero": false}, "axis": {"values": [0.3,0.4,0.5,0.6,0.7,0.8,0.9,1], "format": ".1~f", "title": "Pd", "titlePadding": 1, "grid": true}},
      "color": {"field": "s", "type": "nominal", "scale": {"domain": ["L-A-TC-SM", "A-A-TC-SM", "L-L-TC-SM", "A-L-TC-SM", "L-TC-SM"], "range": ["#e8211c", "#edb120", "#0072bd", "#77ac30", "#7e2f8e"]}, "legend": {"title": null, "orient": "bottom-right", "offset": 4, "zindex": 1, "fillColor": "white", "strokeColor": "#262626", "padding": 3, "labelFontSize": 6, "labelFont": "Liberation Sans", "labelColor": "#111111", "symbolSize": 25, "symbolStrokeWidth": 1, "rowPadding": 1, "labelOffset": 18, "clipHeight": 7}}
     },
     "layer": [
      {"mark": {"type": "line", "strokeWidth": 1}},
      {"mark": {"type": "point", "filled": false, "strokeWidth": 0.8, "size": 20, "opacity": 1}, "encoding": {"shape": {"condition": [{"test": "datum.s === 'L-A-TC-SM'", "value": "M-1,0L1,0M0,-1L0,1M-0.7,-0.7L0.7,0.7M-0.7,0.7L0.7,-0.7"}, {"test": "datum.s === 'A-A-TC-SM'", "value": "M-1,0L1,0M0,-1L0,1"}, {"test": "datum.s === 'L-L-TC-SM'", "value": "square"}, {"test": "datum.s === 'A-L-TC-SM'", "value": "diamond"}], "value": "circle"}}},
      {"transform": [{"filter": "false"}], "mark": {"type": "point", "filled": false, "strokeWidth": 1, "opacity": 1}, "encoding": {"shape": {"field": "s", "type": "nominal", "scale": {"domain": ["L-A-TC-SM", "A-A-TC-SM", "L-L-TC-SM", "A-L-TC-SM", "L-TC-SM"], "range": ["M-1,0L7,0M2.3,-0.7L3.7,0.7M2.3,0.7L3.7,-0.7M3,-0.9L3,0.9", "M-1,0L7,0M3,-0.9L3,0.9", "M-1,0L7,0M2.2,-0.8L3.8,-0.8L3.8,0.8L2.2,0.8Z", "M-1,0L7,0M3,-1L4,0L3,1L2,0Z", "M-1,0L7,0M2.1,0A0.9,0.9 0 1,0 3.9,0A0.9,0.9 0 1,0 2.1,0Z"]}, "legend": {"title": null, "orient": "bottom-right", "offset": 4, "zindex": 1, "fillColor": "white", "strokeColor": "#262626", "padding": 3, "labelFontSize": 6, "labelFont": "Liberation Sans", "labelColor": "#111111", "symbolSize": 25, "symbolStrokeWidth": 1, "rowPadding": 1, "labelOffset": 18, "clipHeight": 7}}}}
     ]
    },
    {
     "layer": [
      {"data": {"values": [{}]}, "mark": {"type": "rect", "fill": "white", "stroke": "#262626", "strokeWidth": 0.8},
       "encoding": {
        "x": {"datum": 0.01, "type": "quantitative", "scale": {"type": "log", "domain": [0.0012547, 0.10464], "nice": false}, "axis": {"orient": "bottom", "offset": -49, "values": [0.01, 0.1], "labelExpr": "datum.value < 0.05 ? '10⁻²' : '10⁻¹'", "title": null, "grid": false, "labelFlush": false, "labelOverlap": false, "zindex": 1, "labelPadding": 3, "labelFontSize": 6}},
        "x2": {"datum": 0.1},
        "y": {"datum": 0.85, "type": "quantitative", "scale": {"domain": [0.73516, 1.06094], "nice": false, "zero": false}, "axis": {"orient": "left", "offset": -92, "values": [0.85, 0.9, 0.95, 1], "format": "~g", "title": null, "grid": false, "zindex": 1, "labelPadding": 2, "labelOverlap": false, "labelFontSize": 6}},
        "y2": {"datum": 1}}},
      {"data": {"values": [{"v":0.02},{"v":0.03},{"v":0.04},{"v":0.05},{"v":0.06},{"v":0.07},{"v":0.08},{"v":0.09}]}, "mark": {"type": "rule", "stroke": "#e6e6e6", "strokeWidth": 0.5},
       "encoding": {"x": {"field": "v", "type": "quantitative", "scale": {"type": "log", "domain": [0.0012547, 0.10464], "nice": false}}, "y": {"datum": 0.85, "type": "quantitative", "scale": {"domain": [0.73516, 1.06094], "nice": false, "zero": false}}, "y2": {"datum": 1}}},
      {"data": {"values": [{"v":0.9},{"v":0.95}]}, "mark": {"type": "rule", "stroke": "#e6e6e6", "strokeWidth": 0.5},
       "encoding": {"y": {"field": "v", "type": "quantitative", "scale": {"domain": [0.73516, 1.06094], "nice": false, "zero": false}}, "x": {"datum": 0.01, "type": "quantitative", "scale": {"type": "log", "domain": [0.0012547, 0.10464], "nice": false}}, "x2": {"datum": 0.1}}},
      {"transform": [{"filter": "datum.x >= 0.01 && datum.x <= 0.1"}],
       "encoding": {
        "x": {"field": "x", "type": "quantitative", "scale": {"type": "log", "domain": [0.0012547, 0.10464], "nice": false}},
        "y": {"field": "y", "type": "quantitative", "scale": {"domain": [0.73516, 1.06094], "nice": false, "zero": false}},
        "color": {"field": "s", "type": "nominal"}},
       "layer": [
        {"mark": {"type": "line", "strokeWidth": 1}},
        {"mark": {"type": "point", "filled": false, "strokeWidth": 0.8, "size": 10, "opacity": 1}, "encoding": {"shape": {"condition": [{"test": "datum.s === 'L-A-TC-SM'", "value": "M-1,0L1,0M0,-1L0,1M-0.7,-0.7L0.7,0.7M-0.7,0.7L0.7,-0.7"}, {"test": "datum.s === 'A-A-TC-SM'", "value": "M-1,0L1,0M0,-1L0,1"}, {"test": "datum.s === 'L-L-TC-SM'", "value": "square"}, {"test": "datum.s === 'A-L-TC-SM'", "value": "diamond"}], "value": "circle"}}}
       ]}
     ]
    }
   ],
   "resolve": {"scale": {"x": "independent", "y": "independent"}, "axis": {"x": "independent", "y": "independent"}}
  },
  {
   "width": 194, "height": 139,
   "data": {"name": "roc"},
   "transform": [{"filter": "datum.p === 'd'"}, {"fold": ["L-A-TC-SM", "A-A-TC-SM", "L-L-TC-SM", "A-L-TC-SM", "L-TC-SM"], "as": ["s", "y"]}],
   "title": {"text": "(d)", "orient": "bottom", "offset": 2, "fontSize": 7, "fontWeight": "bold", "font": "Liberation Sans", "color": "#262626", "anchor": "middle"},
   "encoding": {
    "x": {"field": "x", "type": "quantitative", "scale": {"type": "log", "domain": [0.001, 1], "nice": false}, "axis": {"values": [0.001,0.002,0.003,0.004,0.005,0.006,0.007,0.008,0.009,0.01,0.02,0.03,0.04,0.05,0.06,0.07,0.08,0.09,0.1,0.2,0.3,0.4,0.5,0.6,0.7,0.8,0.9,1], "labelExpr": "datum.value === 0.001 ? '10⁻³' : datum.value === 0.01 ? '10⁻²' : datum.value === 0.1 ? '10⁻¹' : datum.value === 1 ? '10⁰' : ''", "labelOverlap": false, "labelFlush": false, "labelBound": false, "title": "Pfa", "titlePadding": -5, "grid": true}},
    "y": {"field": "y", "type": "quantitative", "scale": {"domain": [0.3, 1], "nice": false, "zero": false}, "axis": {"values": [0.3,0.4,0.5,0.6,0.7,0.8,0.9,1], "format": ".1~f", "title": "Pd", "titlePadding": 1, "grid": true}},
    "color": {"field": "s", "type": "nominal", "scale": {"domain": ["L-A-TC-SM", "A-A-TC-SM", "L-L-TC-SM", "A-L-TC-SM", "L-TC-SM"], "range": ["#e8211c", "#edb120", "#0072bd", "#77ac30", "#7e2f8e"]}, "legend": {"title": null, "orient": "bottom-right", "offset": 4, "zindex": 1, "fillColor": "white", "strokeColor": "#262626", "padding": 3, "labelFontSize": 6, "labelFont": "Liberation Sans", "labelColor": "#111111", "symbolSize": 25, "symbolStrokeWidth": 1, "rowPadding": 1, "labelOffset": 18, "clipHeight": 7}}
   },
   "layer": [
    {"mark": {"type": "line", "strokeWidth": 1}},
    {"mark": {"type": "point", "filled": false, "strokeWidth": 0.8, "size": 20, "opacity": 1}, "encoding": {"shape": {"condition": [{"test": "datum.s === 'L-A-TC-SM'", "value": "M-1,0L1,0M0,-1L0,1M-0.7,-0.7L0.7,0.7M-0.7,0.7L0.7,-0.7"}, {"test": "datum.s === 'A-A-TC-SM'", "value": "M-1,0L1,0M0,-1L0,1"}, {"test": "datum.s === 'L-L-TC-SM'", "value": "square"}, {"test": "datum.s === 'A-L-TC-SM'", "value": "diamond"}], "value": "circle"}}},
    {"transform": [{"filter": "false"}], "mark": {"type": "point", "filled": false, "strokeWidth": 1, "opacity": 1}, "encoding": {"shape": {"field": "s", "type": "nominal", "scale": {"domain": ["L-A-TC-SM", "A-A-TC-SM", "L-L-TC-SM", "A-L-TC-SM", "L-TC-SM"], "range": ["M-1,0L7,0M2.3,-0.7L3.7,0.7M2.3,0.7L3.7,-0.7M3,-0.9L3,0.9", "M-1,0L7,0M3,-0.9L3,0.9", "M-1,0L7,0M2.2,-0.8L3.8,-0.8L3.8,0.8L2.2,0.8Z", "M-1,0L7,0M3,-1L4,0L3,1L2,0Z", "M-1,0L7,0M2.1,0A0.9,0.9 0 1,0 3.9,0A0.9,0.9 0 1,0 2.1,0Z"]}, "legend": {"title": null, "orient": "bottom-right", "offset": 4, "zindex": 1, "fillColor": "white", "strokeColor": "#262626", "padding": 3, "labelFontSize": 6, "labelFont": "Liberation Sans", "labelColor": "#111111", "symbolSize": 25, "symbolStrokeWidth": 1, "rowPadding": 1, "labelOffset": 18, "clipHeight": 7}}}}
   ]
  }
 ], "spacing": 29, "bounds": "flush", "resolve": {"scale": {"color": "independent", "shape": "independent"}, "legend": {"color": "independent", "shape": "independent"}}}
]
}
